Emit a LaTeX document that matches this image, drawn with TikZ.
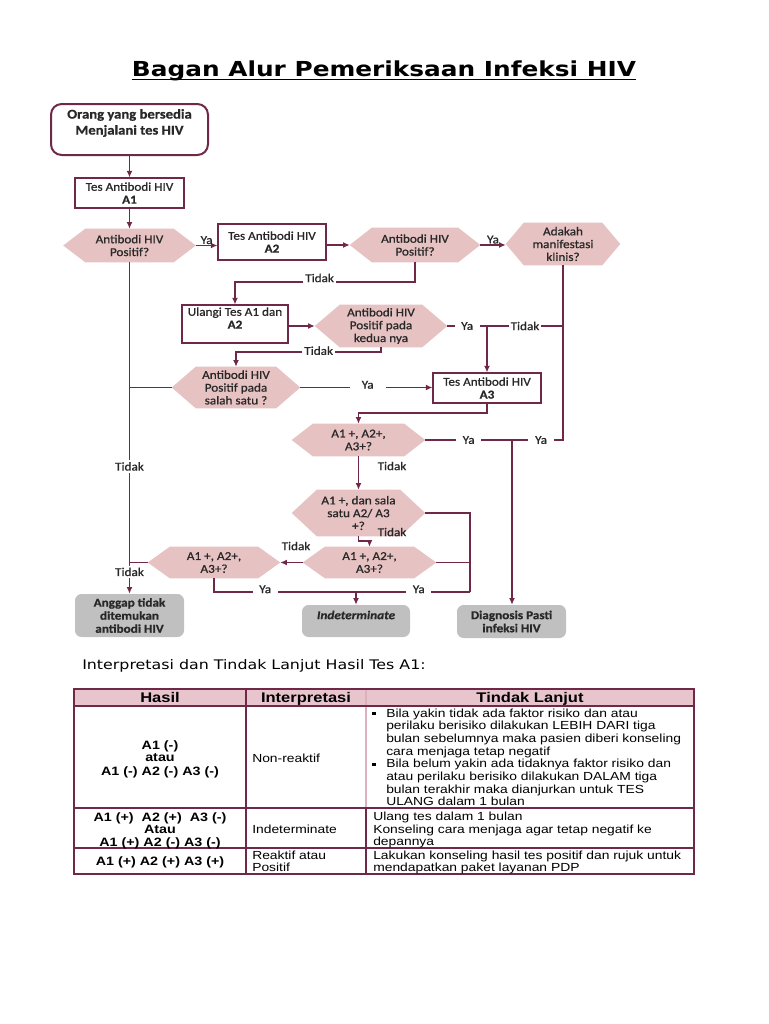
\documentclass[tikz,border=0pt]{standalone}
\usepackage{fontspec}
\setmainfont{Carlito}[FakeStretch=1.1, RawFeature={embolden=0.8}]
\newfontfamily\titlefont{DejaVu Sans}[FakeStretch=1.2]
\newfontfamily\tabfont{Liberation Sans}[FakeStretch=1.18]
\usetikzlibrary{calc,arrows.meta,backgrounds}
\definecolor{maroon}{RGB}{112,40,72}
\definecolor{hexpink}{RGB}{230,194,194}
\definecolor{boxgray}{RGB}{192,192,192}
\definecolor{headpink}{RGB}{232,196,204}
\definecolor{palepink}{RGB}{222,175,190}
\definecolor{txtgray}{RGB}{40,40,40}
\tikzset{
  conn/.style={draw=maroon, line width=1.2pt},
  arr/.style={conn, -{Latex[length=5pt,width=4.5pt]}},
  ff/.style={font=\fontsize{9}{9.6}\selectfont, text=txtgray},
  wh/.style 2 args={minimum width=#1*0.75pt, minimum height=#2*0.75pt},
  fbox/.style={ff, rectangle, draw=maroon, line width=0.8pt, fill=white, align=center, inner sep=1pt},
  hexn/.style={ff, rectangle, align=center, inner sep=1pt},
  endbox/.style={font=\bfseries\fontsize{9}{9.8}\selectfont, text=txtgray, rectangle, rounded corners=5pt, fill=boxgray, align=center, inner sep=1pt},
  lbl/.style={ff, fill=white, inner sep=1.5pt},
  txt/.style={ff, align=center, inner sep=0pt},
  tf/.style={font=\tabfont\fontsize{8.8}{9.5}\selectfont, inner sep=0pt, anchor=base west},
  tb/.style={font=\tabfont\bfseries\fontsize{9.1}{10}\selectfont, inner sep=0pt, anchor=base},
  th/.style={font=\tabfont\bfseries\fontsize{10.5}{12}\selectfont, inner sep=0pt, anchor=base},
}
\newcommand\hexbg[2]{\fill[hexpink] (#1.west) -- ($(#1.north west)+(#2,0)$) -- ($(#1.north east)+(-#2,0)$) -- (#1.east) -- ($(#1.south east)+(-#2,0)$) -- ($(#1.south west)+(#2,0)$) -- cycle;}
\begin{document}
\begin{tikzpicture}[x=0.75pt,y=-0.75pt]
\useasboundingbox (0,0) rectangle (768,1024);

% title
\node[font=\titlefont\bfseries\fontsize{15.5}{18}\selectfont, inner sep=0pt, anchor=base] (title) at (384,76) {Bagan Alur Pemeriksaan Infeksi HIV};
\draw[line width=1.2pt] ($(title.base west)+(0,3.5)$) -- ($(title.base east)+(0,3.5)$);

% boxes
\node[fbox, wh={157}{51}, rounded corners=8pt, line width=1.5pt] (start) at (129.5,129.5) {};
\node[txt, font=\bfseries\fontsize{10}{12}\selectfont] (starttxt) at (129.5,123) {Orang yang bersedia\\Menjalani tes HIV};
\node[fbox, wh={109}{30}] (A1) at (129.5,193) {Tes Antibodi HIV\\\textbf{A1}};
\node[fbox, wh={108}{36}] (A2) at (272,242) {Tes Antibodi HIV\\\textbf{A2}};
\node[fbox, wh={106}{38}] (Ulangi) at (235,324) {};
\node[txt] (ulangitxt) at (235,318) {Ulangi Tes A1 dan\\\textbf{A2}};
\node[fbox, wh={108}{30}] (A3) at (487,388) {Tes Antibodi HIV\\\textbf{A3}};

% hexagons
\node[hexn, wh={132}{33}] (h1) at (129.5,245.5) {Antibodi HIV\\Positif?};
\node[hexn, wh={130}{34}] (h2) at (415,245) {Antibodi HIV\\Positif?};
\node[hexn, wh={114}{42}] (h3) at (563,244) {Adakah\\manifestasi\\klinis?};
\node[hexn, wh={132}{42}] (h4) at (381,326) {Antibodi HIV\\Positif pada\\kedua nya};
\node[hexn, wh={128}{41}] (h5) at (236,387.5) {Antibodi HIV\\Positif pada\\salah satu ?};
\node[hexn, wh={133}{32}] (h6) at (358.5,440) {A1 +, A2+,\\A3+?};
\node[hexn, wh={133}{46}] (h7) at (358.5,513) {A1 +, dan sala\\satu A2/ A3\\+?};
\node[hexn, wh={133}{31}] (h8) at (369.5,562.5) {A1 +, A2+,\\A3+?};
\node[hexn, wh={132}{31}] (h9) at (214,562.5) {A1 +, A2+,\\A3+?};

\begin{pgfonlayer}{background}
\fill[white] (0,0) rectangle (768,1024);
\hexbg{h1}{22}
\hexbg{h2}{22}
\hexbg{h3}{18}
\hexbg{h4}{25}
\hexbg{h5}{24}
\hexbg{h6}{21}
\hexbg{h7}{25}
\hexbg{h8}{22}
\hexbg{h9}{22}
\end{pgfonlayer}

% end boxes
\node[endbox, wh={109}{43}] (Anggap) at (129.5,615.5) {Anggap tidak\\ditemukan\\antibodi HIV};
\node[endbox, wh={108}{32}] (Indet) at (356,621) {};
\node[txt, font=\bfseries\itshape\fontsize{9}{9.8}\selectfont] (indettxt) at (356,615) {Indeterminate};
\node[endbox, wh={109}{33}] (Diag) at (511.5,621.5) {Diagnosis Pasti\\infeksi HIV};

% junctions
\coordinate (j1) at (487,326);
\coordinate (j2) at (129.5,562.5);
\coordinate (j3) at (512,440);
\coordinate (j4) at (470,592);
\coordinate (c1) at (0,282);
\coordinate (c2) at (0,352);
\coordinate (c3) at (0,413);
\coordinate (c4) at (0,541);

% connectors
\draw[arr] (start.south) -- (A1.north);
\draw[arr] (A1.south) -- (h1.north);
\draw[arr] (h1.east) -- node[lbl, fill=none, above, yshift=-1pt]{Ya} (A2.west |- h1.east);
\draw[arr] (A2.east |- h2.west) -- (h2.west);
\draw[arr] (h2.east) -- node[lbl, fill=none, above, yshift=-1pt]{Ya} (h3.west |- h2.east);
\draw[arr] (h2.south) -- (h2.south |- c1) -- node[lbl, pos=0.53, yshift=3pt]{Tidak} (Ulangi.north |- c1) -- (Ulangi.north);
\draw[arr] (Ulangi.east |- h4.west) -- (h4.west);
\draw[conn] (h4.east) -- node[lbl, inner xsep=5pt]{Ya} (j1);
\draw[conn] (h3.south) -- (h3.south |- j1) -- node[lbl, pos=0.5]{Tidak} (j1);
\draw[arr] (j1) -- (j1 |- A3.north);
\draw[arr] (h4.south) -- (h4.south |- c2) -- node[lbl, pos=0.43, yshift=1pt]{Tidak} (h5.north |- c2) -- (h5.north);
\draw[arr] (h5.east) -- node[lbl, inner xsep=9pt, pos=0.51, yshift=2pt]{Ya} (A3.west |- h5.east);
\draw[arr] (A3.south) -- (A3.south |- c3) -- (h6.north |- c3) -- (h6.north);
\draw[conn] (h6.east) -- node[lbl, inner xsep=5pt, pos=0.5]{Ya} (j3);
\draw[conn] (h3.south |- j1) -- (h3.south |- j3) -- node[lbl, inner xsep=5pt, pos=0.43]{Ya} (j3);
\draw[arr] (j3) -- (j3 |- Diag.north);
\draw[arr] (h6.south) -- (h7.north);
\node[lbl, fill=none] (t6) at (392,466) {Tidak};
\draw[arr] (h7.south) -- (h7.south |- c4) -- (h8.north |- c4) -- (h8.north);
\node[lbl, fill=none] (t7) at (392,532) {Tidak};
\draw[arr] (h8.west) -- (h9.east);
\node[lbl, fill=none] (t8) at (296,546) {Tidak};
\draw[conn] (h7.east) -- (h7.east -| j4) -- (j4);
\draw[conn] (h8.east) -- (h8.east -| j4);
\draw[conn] (h9.south) -- (h9.south |- j4) -- node[lbl, pos=0.2, yshift=2pt, inner xsep=5pt]{Ya} node[lbl, pos=0.8, yshift=2pt, inner xsep=5pt]{Ya} (j4);
\draw[arr] (Indet.north |- j4) -- (Indet.north);
% left trunk
\draw[conn] (h1.south) -- node[lbl, pos=0.68]{Tidak} (j2);
\draw[conn] (h5.west) -- (h5.west -| j2);
\draw[conn] (h9.west) -- (j2);
\draw[arr] (j2) -- node[lbl, pos=0.3]{Tidak} (Anggap.north);

% table
\node[font=\titlefont\fontsize{9.9}{12}\selectfont, anchor=base west, inner sep=0pt] (sub) at (82,669) {Interpretasi dan Tindak Lanjut Hasil Tes A1:};
\fill[headpink] (74,689) rectangle (694,706);
\draw[palepink, line width=1pt] (366,689) -- (366,808);
\draw[maroon, line width=1pt] (366,808) -- (366,874);
\draw[maroon, line width=1.5pt] (74,706) -- (694,706);
\draw[maroon, line width=1.5pt] (74,808) -- (694,808);
\draw[maroon, line width=1.5pt] (74,848) -- (694,848);
\draw[maroon, line width=1.5pt] (246,689) -- (246,874);
\draw[maroon, line width=1.5pt] (74,689) rectangle (694,874);

\node[th] (hh1) at (160,702) {Hasil};
\node[th] (hh2) at (306,702) {Interpretasi};
\node[th] (hh3) at (530,702) {Tindak Lanjut};

\node[tb] (r1a) at (160,749) {A1 (-)};
\node[tb] (r1b) at (160,761) {atau};
\node[tb] (r1c) at (160,775) {A1 (-) A2 (-) A3 (-)};
\node[tf] (r1i) at (252,762) {Non-reaktif};
\fill[black] (371.5,712) rectangle (375.5,715);
\fill[black] (371.5,763) rectangle (375.5,766);
\foreach \t [count=\i] in {Bila yakin tidak ada faktor risiko dan atau, perilaku berisiko dilakukan LEBIH DARI tiga, bulan sebelumnya maka pasien diberi konseling, cara menjaga tetap negatif, Bila belum yakin ada tidaknya faktor risiko dan, atau perilaku berisiko dilakukan DALAM tiga, bulan terakhir maka dianjurkan untuk TES, ULANG dalam 1 bulan}
  \node[tf] (ra\i) at (386,{717+12.7*(\i-1)}) {\t};

\node[tb] (r2a) at (160,821) {A1 (+)\ \ A2 (+)\ \ A3 (-)};
\node[tb] (r2b) at (160,833) {Atau};
\node[tb] (r2c) at (160,846) {A1 (+) A2 (-) A3 (-)};
\node[tf] (r2i) at (252,833) {Indeterminate};
\node[tf] (r2t1) at (373,820) {Ulang tes dalam 1 bulan};
\node[tf] (r2t2) at (373,833) {Konseling cara menjaga agar tetap negatif ke};
\node[tf] (r2t3) at (373,845) {depannya};

\node[tb] (r3a) at (160,865) {A1 (+) A2 (+) A3 (+)};
\node[tf] (r3i1) at (252,859) {Reaktif atau};
\node[tf] (r3i2) at (252,871) {Positif};
\node[tf] (r3t1) at (373,859) {Lakukan konseling hasil tes positif dan rujuk untuk};
\node[tf] (r3t2) at (373,871) {mendapatkan paket layanan PDP};
\end{tikzpicture}
\end{document}
